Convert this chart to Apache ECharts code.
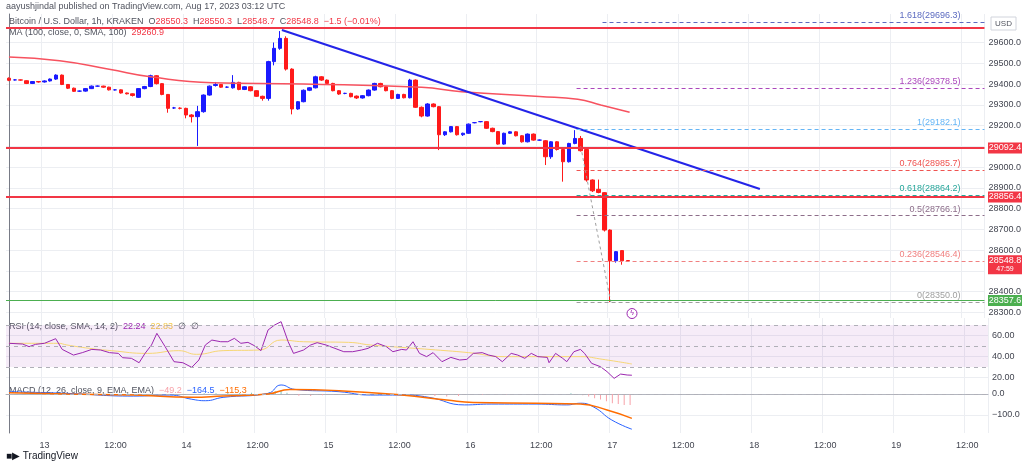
<!DOCTYPE html>
<html>
<head>
<meta charset="utf-8">
<script src="https://cdn.jsdelivr.net/npm/echarts@6/dist/echarts.min.js"></script>
<style>
  html, body { margin: 0; padding: 0; background: #fff; }
  #chart { width: 1024px; height: 468px; }
</style>
</head>
<body>
<div id="chart"></div>
<script>
// BTC/USD 1h candles: [open, close, low, high]
var candles = [
  [29428,29418,29414,29432],[29420,29420,29417,29423],[29420,29419,29416,29422],[29416,29403,29400,29418],
  [29403,29412,29400,29414],[29412,29410,29407,29414],[29410,29415,29407,29418],[29415,29424,29412,29427],
  [29424,29443,29420,29447],[29443,29398,29395,29446],[29398,29380,29376,29400],[29380,29365,29362,29383],
  [29366,29366,29362,29369],[29366,29378,29363,29381],[29378,29390,29376,29393],[29390,29390,29387,29393],
  [29390,29385,29382,29392],[29385,29372,29369,29387],[29372,29372,29369,29375],[29372,29357,29354,29374],
  [29357,29353,29350,29359],[29353,29345,29340,29355],[29336,29378,29333,29380],[29378,29388,29375,29391],
  [29388,29440,29385,29445],[29440,29402,29398,29443],[29402,29350,29346,29405],[29350,29283,29262,29352],
  [29285,29285,29280,29290],[29284,29283,29278,29288],[29283,29251,29235,29286],[29251,29243,29215,29255],
  [29243,29267,29102,29295],[29267,29347,29262,29350],[29347,29390,29344,29393],[29393,29398,29388,29410],
  [29398,29385,29382,29400],[29385,29385,29381,29389],[29382,29408,29378,29443],[29408,29374,29370,29411],
  [29374,29387,29371,29390],[29387,29368,29365,29390],[29368,29341,29338,29370],[29341,29331,29320,29344],
  [29331,29508,29320,29512],[29508,29572,29490,29600],[29572,29620,29565,29655],[29620,29472,29465,29630],
  [29472,29280,29254,29476],[29280,29315,29276,29318],[29315,29370,29312,29374],[29370,29382,29366,29385],
  [29382,29435,29379,29440],[29435,29419,29415,29438],[29419,29403,29399,29422],[29403,29368,29365,29406],
  [29368,29352,29348,29371],[29355,29355,29351,29358],[29355,29339,29336,29358],[29342,29333,29328,29345],
  [29333,29344,29330,29347],[29344,29371,29341,29374],[29371,29403,29368,29406],[29403,29387,29384,29406],
  [29387,29368,29365,29390],[29368,29331,29327,29371],[29331,29350,29328,29353],[29350,29334,29331,29353],
  [29334,29419,29331,29425],[29419,29288,29285,29422],[29288,29246,29240,29292],[29246,29304,29243,29308],
  [29304,29291,29288,29307],[29291,29156,29082,29294],[29156,29170,29150,29173],[29170,29195,29167,29198],
  [29195,29156,29152,29198],[29156,29163,29150,29166],[29163,29207,29160,29210],[29214,29214,29211,29217],
  [29219,29219,29216,29222],[29219,29187,29184,29222],[29187,29171,29168,29190],[29171,29111,29108,29174],
  [29111,29163,29108,29166],[29163,29170,29160,29173],[29170,29151,29148,29173],[29151,29122,29118,29154],
  [29122,29159,29119,29162],[29159,29130,29127,29162],[29130,29130,29127,29133],[29127,29050,29010,29130],
  [29050,29122,29040,29125],[29122,29085,29080,29125],[29085,29026,28930,29088],[29026,29114,29022,29117],
  [29114,29138,29110,29178],[29138,29079,29075,29150],[29085,28938,28930,29088],[28938,28886,28880,28941],
  [28893,28878,28874,28940],[28877,28697,28690,28880],[28697,28549,28350,28700],[28549,28593,28540,28596],
  [28598,28549,28530,28600],[28550,28549,28548,28550]
];
// MA(100) read at [candle index, price]
var ma100 = [[0,29530],[8.6,29512],[17,29471],[24,29435],[34.5,29406],[50,29400],[70,29384],[76.8,29363],[90,29340],[96.5,29327],[100.4,29299],[105.3,29264]];
var trendLine = [[46.3,29660],[127.4,28895]];
var fibLevels = [
  ['1.618', 29696.3, '#5c6bc0', 100.7], ['1.236', 29378.5, '#ab47bc', 96.3], ['1', 29182.1, '#64b5f6', 96.3],
  ['0.764', 28985.7, '#ef5350', 96.3], ['0.618', 28864.2, '#26a69a', 96.3], ['0.5', 28766.1, '#8d6e8a', 96.3],
  ['0.236', 28546.4, '#f08080', 96.3], ['0', 28350.0, '#9e9e9e', 96.3]
];
var fibDiag = [[97,29100],[102.1,28350]];
var priceTicks = [28300,28400,28500,28600,28700,28800,28900,29000,29100,29200,29300,29400,29500,29600];
var rsi = [[0,52.6],[2.3,51.9],[3.4,49.4],[4.5,51.6],[6,52.6],[7.9,57.0],[9,46.8],[10.9,41.4],[12.4,43.7],[14,46.8],
  [15.5,46.2],[17,43.7],[18.5,43.0],[19.2,38.9],[20.7,38.3],[22,34.1],[23,43.0],[24.1,51.0],[25,62.1],[26.4,49.4],
  [27.9,35.1],[29.4,34.1],[30.9,29.7],[32.1,36.7],[33.2,51.0],[34.3,55.7],[35.8,54.1],[37,54.1],[38.1,57.3],[39.2,52.6],
  [40.4,53.5],[41.5,50.3],[42.6,45.6],[43.8,65.3],[44.9,70.0],[46,73.2],[47.2,54.1],[48.1,43.0],[49.8,46.2],[51,51.0],
  [52.1,53.2],[53.6,51.0],[55.1,47.8],[56.6,44.6],[58.1,44.6],[59.6,46.2],[60.7,47.8],[62.3,52.6],[63.8,49.4],[64.9,44.6],
  [66.4,46.8],[67.2,46.2],[68.3,54.1],[69.4,43.0],[70.6,39.9],[71.7,43.7],[73.2,35.1],[74.7,39.2],[76.2,36.7],[77.4,37.3],
  [78.5,43.0],[80,43.7],[81.1,41.4],[82.3,39.9],[83.4,35.1],[84.9,43.0],[86,41.4],[87.2,38.3],[88.3,43.0],[89.4,39.9],
  [91,39.2],[91.3,34.1],[92.4,43.0],[93.6,38.3],[94.3,35.1],[95.5,44.6],[96.6,46.8],[97.3,43.0],[98.5,33.5],[100,30.3],
  [101.1,25.6],[102.3,19.2],[103.4,23.3],[104.5,22.4],[105.3,22.2]];
var rsiMa = [[0,52.6],[8.3,52.6],[9.8,51.0],[13.6,47.8],[17.3,45.6],[23.4,43.0],[28.7,45.6],[31.7,42.1],[36.2,45.6],[42.3,46.2],
  [46,55.7],[49.8,54.1],[57.4,53.5],[61.1,51.0],[66.4,48.7],[71,46.8],[77.7,43.7],[83.8,39.9],[96.6,39.9],[100.4,37.3],[105.3,32.9]];
var macd = [[0,11],[9.8,3],[21.1,-10],[27.2,-5],[30.9,-25],[33.2,-32],[36.2,-16],[43.8,3],[46,43],[48.3,22],[55.8,11],
  [61.1,-5],[66.4,-5],[71,-16],[77,-52],[81.5,-48],[89.1,-48],[94.3,-52],[96.6,-44],[98.9,-63],[101.9,-124],[105.3,-168]];
var macdSignal = [[0,6],[9.8,0],[21.1,-5],[30.9,-16],[36.2,-10],[43.8,0],[47.5,22],[55.8,16],[66.4,-5],[74,-29],[78.5,-41],
  [89.1,-44],[96.6,-48],[101.1,-76],[105.3,-116]];
var macdHist = [[33,3],[35,4],[37,6],[39,5],[41,6],[44,10],[45,14],[46,18],[47,6],[49,-8],[51,-10],[53,-6],[55,-5],
  [58,-4],[60,-3],[62,-6],[66,-4],[70,-6],[72,-10],[74,-12],[76,-9],[80,-4],[84,-3],[88,-2],[92,-4],[95,3],
  [97,-6],[98,-12],[99,-20],[100,-26],[101,-34],[102,-44],[103,-48],[104,-52],[105,-52]];
var rsiTicks = [20,40,60];
var macdTicks = [-100,0];

var cats = [];
for (var i = 0; i < 166; i++) {
  var h = (18 + i) % 24, d = 12 + Math.floor((18 + i) / 24);
  cats.push(h === 0 ? String(d) : (h === 12 ? '12:00' : ''));
}
function isMark(idx) { return cats[idx] !== ''; }

var font = 'Liberation Sans';
var axisTxt = { color: '#434651', fontSize: 9, fontFamily: font };
var gridClr = '#eceef2';
function vAxis(g) { return { type: 'value', gridIndex: g, min: -0.5, max: 165.5, show: false }; }
function cAxis(g, showLabel) {
  return {
    type: 'category', gridIndex: g, data: cats, boundaryGap: true,
    axisLine: { show: showLabel, lineStyle: { color: '#b2b5be' } }, axisTick: { show: false },
    axisLabel: { show: showLabel, interval: function (idx) { return isMark(idx); }, margin: 8, color: '#434651', fontSize: 9, fontFamily: font },
    splitLine: { show: true, interval: function (idx) { return isMark(idx); }, lineStyle: { color: gridClr } }
  };
}

var markLines = [];
fibLevels.forEach(function (f) {
  markLines.push([
    { coord: [f[3], f[1]], lineStyle: { color: f[2], type: [4, 3], width: 1 },
      label: { show: true, position: 'insideEndTop', formatter: f[0] + '(' + f[1].toFixed(1) + ')', color: f[2], fontSize: 9, fontFamily: font, distance: [24, 2] } },
    { coord: [165.5, f[1]] }
  ]);
});
[[29670, '#f23645', 2], [29092.4, '#f23645', 2], [28856.4, '#f23645', 2], [28357.6, '#4caf50', 1]].forEach(function (l) {
  markLines.push([{ coord: [-0.5, l[0]], lineStyle: { color: l[1], width: l[2], type: 'solid' }, label: { show: false } }, { coord: [165.5, l[0]] }]);
});

var chart = echarts.init(document.getElementById('chart'));
var option = {
  animation: false,
  backgroundColor: '#ffffff',
  grid: [
    { left: 6, right: 36, top: 14, height: 304 },
    { left: 6, right: 36, top: 318, height: 63 },
    { left: 6, right: 36, top: 381, height: 52 }
  ],
  xAxis: [cAxis(0, false), vAxis(0), cAxis(1, false), vAxis(1), cAxis(2, true), vAxis(2)],
  yAxis: [
    { type: 'value', gridIndex: 0, position: 'right', min: 28273.5, max: 29737.3, scale: true,
      axisLine: { show: true, lineStyle: { color: '#787b86' } }, axisTick: { show: false, customValues: priceTicks },
      axisLabel: Object.assign({ customValues: priceTicks, margin: 4, formatter: function (v) { return v.toFixed(1); } }, axisTxt),
      splitLine: { show: true, lineStyle: { color: gridClr } } },
    { type: 'value', gridIndex: 1, position: 'right', min: 16.7, max: 76.7,
      axisLine: { show: true, lineStyle: { color: '#787b86' } }, axisTick: { show: false, customValues: rsiTicks },
      axisLabel: Object.assign({ customValues: rsiTicks, margin: 4, formatter: function (v) { return v.toFixed(2); } }, axisTxt),
      splitLine: { show: true, lineStyle: { color: gridClr } } },
    { type: 'value', gridIndex: 2, position: 'right', min: -186, max: 62,
      axisLine: { show: true, lineStyle: { color: '#787b86' } }, axisTick: { show: false, customValues: macdTicks },
      axisLabel: Object.assign({ customValues: macdTicks, margin: 4, formatter: function (v) { return v === 0 ? '0.0' : '\u2212' + Math.abs(v).toFixed(1); } }, axisTxt),
      splitLine: { show: true, lineStyle: { color: gridClr } } }
  ],
  series: [
    { type: 'candlestick', xAxisIndex: 0, yAxisIndex: 0, data: candles, barWidth: 4,
      itemStyle: { color: '#1a1aff', color0: '#ff1a1a', borderColor: '#1a1aff', borderColor0: '#ff1a1a', borderWidth: 1 } },
    { type: 'line', xAxisIndex: 1, yAxisIndex: 0, data: ma100, smooth: true, symbol: 'none',
      lineStyle: { color: '#f7525f', width: 1.5 } },
    { type: 'line', xAxisIndex: 1, yAxisIndex: 0, data: trendLine, symbol: 'none',
      lineStyle: { color: '#2424e8', width: 2 },
      markLine: { silent: true, symbol: 'none', animation: false, data: markLines } },
    { type: 'line', xAxisIndex: 1, yAxisIndex: 0, data: fibDiag, symbol: 'none',
      lineStyle: { color: '#9e9e9e', width: 1, type: [3, 3] } },
    { type: 'line', xAxisIndex: 3, yAxisIndex: 1, data: rsiMa, smooth: true, symbol: 'none',
      lineStyle: { color: '#f7d774', width: 1 } },
    { type: 'line', xAxisIndex: 3, yAxisIndex: 1, data: rsi, symbol: 'none',
      lineStyle: { color: '#9c27b0', width: 1 },
      markArea: { silent: true, itemStyle: { color: 'rgba(156,39,176,0.09)' }, data: [[{ yAxis: 30 }, { yAxis: 70 }]] },
      markLine: { silent: true, symbol: 'none', label: { show: false },
        lineStyle: { color: '#b0b0b8', type: [4, 4], width: 1 }, data: [{ yAxis: 70 }, { yAxis: 50 }, { yAxis: 30 }] } },
    { type: 'bar', xAxisIndex: 5, yAxisIndex: 2, data: macdHist, barWidth: 1,
      itemStyle: { color: function (p) { return p.value[1] >= 0 ? '#7fc8c0' : '#f7a1a8'; } },
      markLine: { silent: true, symbol: 'none', label: { show: false },
        lineStyle: { color: '#b0b0b8', type: [4, 4], width: 1 }, data: [{ yAxis: 0 }] } },
    { type: 'line', xAxisIndex: 5, yAxisIndex: 2, data: macd, smooth: true, symbol: 'none',
      lineStyle: { color: '#2962ff', width: 1 } },
    { type: 'line', xAxisIndex: 5, yAxisIndex: 2, data: macdSignal, smooth: true, symbol: 'none',
      lineStyle: { color: '#ff6d00', width: 1.5 } }
  ]
};
chart.setOption(option);

// header texts and right-side price tags
function py(v) { return chart.convertToPixel({ yAxisIndex: 0 }, v); }
function tag(v, color, extra) {
  var y = py(v);
  var h = extra ? 19 : 11;
  var kids = [
    { type: 'rect', z: 100, shape: { x: 0, y: 0, width: 34, height: h }, style: { fill: color } },
    { type: 'text', z: 101, x: 17, y: 5.5, style: { text: v.toFixed(1), fill: '#fff', fontSize: 9, fontFamily: font, align: 'center', verticalAlign: 'middle' } }
  ];
  if (extra) kids.push({ type: 'text', z: 101, x: 17, y: 14, style: { text: extra, fill: '#fff', fontSize: 7, fontFamily: font, align: 'center', verticalAlign: 'middle' } });
  return { type: 'group', x: 988, y: y - 5.5, children: kids };
}
var hdr = { fontSize: 9, fontFamily: font, fill: '#50535e' };
chart.setOption({ graphic: [
  { type: 'rect', shape: { x: 0, y: 0, width: 1024, height: 14 }, style: { fill: '#fff' } },
  { type: 'text', left: 6, top: 2, style: Object.assign({ text: 'aayushjindal published on TradingView.com, Aug 17, 2023 03:12 UTC' }, hdr) },
  { type: 'text', left: 9, top: 17, style: Object.assign({
      text: '{a|Bitcoin / U.S. Dollar, 1h, KRAKEN  O}{r|28550.3}{a|  H}{r|28550.3}{a|  L}{r|28548.7}{a|  C}{r|28548.8}{r|  \u22121.5 (\u22120.01%)}',
      rich: { a: { fill: '#50535e', fontSize: 9, fontFamily: font }, r: { fill: '#f23645', fontSize: 9, fontFamily: font } } }, hdr) },
  { type: 'text', left: 9, top: 28, style: Object.assign({
      text: '{a|MA (100, close, 0, SMA, 100)  }{r|29260.9}',
      rich: { a: { fill: '#50535e', fontSize: 9, fontFamily: font }, r: { fill: '#f23645', fontSize: 9, fontFamily: font } } }, hdr) },
  { type: 'text', left: 9, top: 322, style: Object.assign({
      text: '{a|RSI (14, close, SMA, 14, 2)  }{p|22.24}  {y|22.83}  {a|\u2205  \u2205}',
      rich: { a: { fill: '#50535e', fontSize: 9, fontFamily: font }, p: { fill: '#9c27b0', fontSize: 9, fontFamily: font }, y: { fill: '#f2c94c', fontSize: 9, fontFamily: font } } }, hdr) },
  { type: 'text', left: 9, top: 386, style: Object.assign({
      text: '{a|MACD (12, 26, close, 9, EMA, EMA)  }{h|\u221249.2}  {b|\u2212164.5}  {o|\u2212115.3}',
      rich: { a: { fill: '#50535e', fontSize: 9, fontFamily: font }, h: { fill: '#f7a1a8', fontSize: 9, fontFamily: font }, b: { fill: '#2962ff', fontSize: 9, fontFamily: font }, o: { fill: '#ff6d00', fontSize: 9, fontFamily: font } } }, hdr) },
  { type: 'text', left: 6, top: 451, style: { text: '\u25a0\u25b6 TradingView', fill: '#131722', fontSize: 10, fontFamily: font } },
  { type: 'rect', shape: { x: 991, y: 17, width: 25, height: 13 }, style: { fill: '#fff', stroke: '#d1d4dc' } },
  { type: 'text', x: 1003.5, y: 20, style: { text: 'USD', fill: '#50535e', fontSize: 8, fontFamily: font, align: 'center' } },
  { type: 'circle', shape: { cx: 632, cy: py(28295), r: 5 }, style: { fill: '#fff', stroke: '#9c27b0', lineWidth: 1 } },
  { type: 'text', x: 632, y: py(28295) - 4, style: { text: '\u03df', fill: '#9c27b0', fontSize: 7, align: 'center' } },
  tag(29092.4, '#f23645'),
  tag(28856.4, '#f23645'),
  tag(28548.8, '#f23645', '47:59'),
  tag(28357.6, '#4caf50')
] });
</script>
</body>
</html>
